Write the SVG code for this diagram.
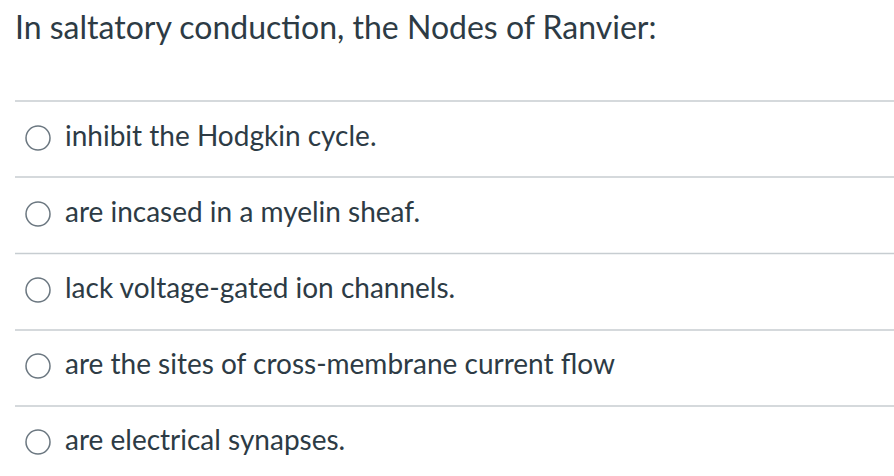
<svg xmlns="http://www.w3.org/2000/svg" width="894" height="476" viewBox="0 0 894 476">
<style>
.t{font-family:Lato,"Liberation Sans",sans-serif;fill:#2d3b45}
.o{font-size:28px}
.l{stroke:#c7cdd1;stroke-width:1.5}
.c{fill:#fff;stroke:#6b7780;stroke-width:1.5}
</style>
<rect width="894" height="476" fill="#fff"/>
<text class="t" x="15" y="39" font-size="32">In saltatory conduction, the Nodes of Ranvier:</text>
<g id="lines">
<line class="l" x1="15" y1="101" x2="894" y2="101"/>
<line class="l" x1="15" y1="177" x2="894" y2="177"/>
<line class="l" x1="15" y1="253.5" x2="894" y2="253.5"/>
<line class="l" x1="15" y1="330" x2="894" y2="330"/>
<line class="l" x1="15" y1="406" x2="894" y2="406"/>
</g>
<g id="opt1"><circle class="c" cx="38" cy="138" r="12"/><text class="t o" x="65" y="146">inhibit the Hodgkin cycle.</text></g>
<g id="opt2"><circle class="c" cx="38" cy="214" r="12"/><text class="t o" x="65" y="222">are incased in a myelin sheaf.</text></g>
<g id="opt3"><circle class="c" cx="38" cy="290" r="12"/><text class="t o" x="65" y="298">lack voltage-gated ion channels.</text></g>
<g id="opt4"><circle class="c" cx="38" cy="366" r="12"/><text class="t o" x="65" y="374">are the sites of cross-membrane current flow</text></g>
<g id="opt5"><circle class="c" cx="38" cy="442" r="12"/><text class="t o" x="65" y="450">are electrical synapses.</text></g>
</svg>
